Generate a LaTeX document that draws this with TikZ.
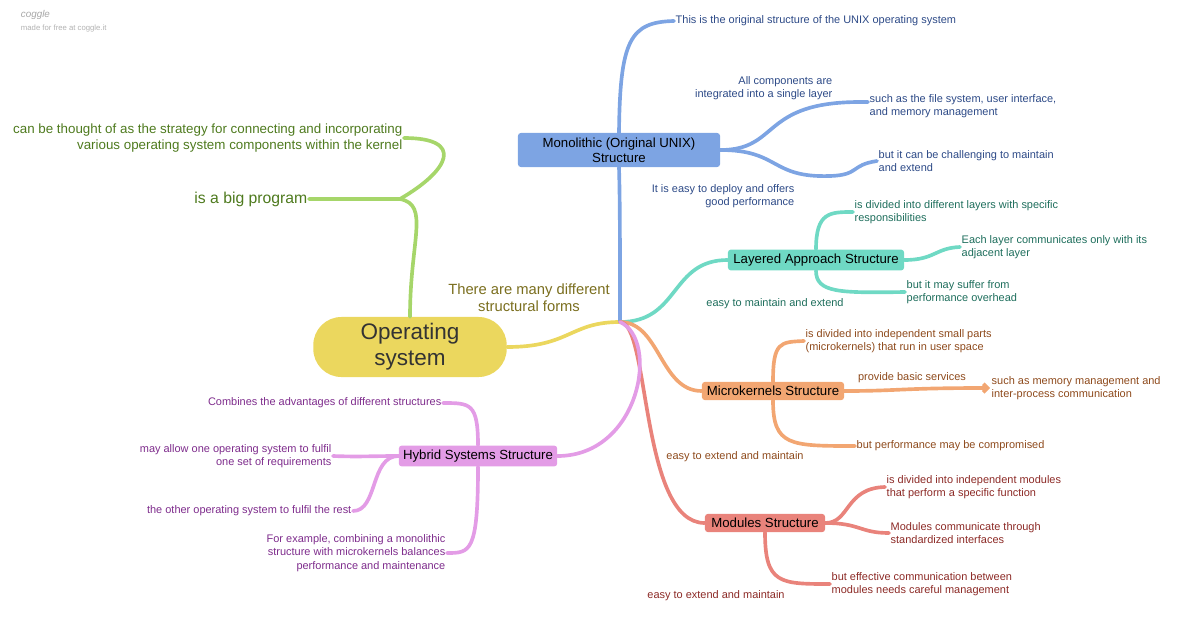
\documentclass[tikz,border=0pt]{standalone}
\usepackage{fontspec}
\setmainfont{Liberation Sans}
\usetikzlibrary{positioning,arrows.meta}

\definecolor{cyel}{HTML}{EBD75E}
\definecolor{cblue}{HTML}{7DA4E3}
\definecolor{cteal}{HTML}{6FD9C4}
\definecolor{corange}{HTML}{F2A672}
\definecolor{cred}{HTML}{E9837B}
\definecolor{cpurple}{HTML}{E39CE6}
\definecolor{cgreen}{HTML}{A6D66A}
\definecolor{tblue}{HTML}{2D4A87}
\definecolor{tteal}{HTML}{1E6E5C}
\definecolor{torange}{HTML}{8E4A1C}
\definecolor{tred}{HTML}{8C2A26}
\definecolor{tpurple}{HTML}{7E2C8C}
\definecolor{tgreen}{HTML}{4E7A1E}
\definecolor{tolive}{HTML}{7A6E1E}

\begin{document}
\begin{tikzpicture}[x=0.025cm, y=-0.025cm, line cap=round,
    txt/.style={font=\fontsize{7.8}{9.4}\selectfont, inner sep=1pt, align=left},
    rtxt/.style={txt, align=right},
    box/.style={rounded corners=2pt, inner sep=3pt, font=\fontsize{9.4}{10.6}\selectfont, align=center},
    branch/.style={line width=2.6pt}]
    \useasboundingbox (0,0) rectangle (1200,617);

    % watermark
    \node[anchor=west, text=black!35, font=\fontsize{7}{8}\selectfont\itshape] (logo) at (16,15) {coggle};
    \node[anchor=west, text=black!30, font=\fontsize{5.5}{7}\selectfont] (made) at (16,29) {made for free at coggle.it};

    % main nodes
    \node[fill=cyel, rounded corners=20pt, text width=4.6cm, minimum height=1.5cm, align=center,
          font=\fontsize{16}{18.5}\selectfont, text=black!80] (os) at (410,347) {Operating\\system};
    \coordinate (hub) at (620,322);
    \node[box, fill=cblue, minimum width=5.05cm, minimum height=0.85cm] (mono) at (619,150) {Monolithic (Original UNIX)\\Structure};
    \node[box, fill=cteal, minimum width=4.4cm] (layer) at (816,260) {Layered Approach Structure};
    \node[box, fill=corange, minimum width=3.55cm] (micro) at (773,391) {Microkernels Structure};
    \node[box, fill=cred, minimum width=3cm] (modul) at (765,523) {Modules Structure};
    \node[box, fill=cpurple, minimum width=3.95cm] (hybrid) at (478,456) {Hybrid Systems Structure};

    % green branch
    \node[rtxt, anchor=east, text=tgreen, font=\fontsize{9.5}{11}\selectfont] (strat) at (404,138)
        {can be thought of as the strategy for connecting and incorporating\\various operating system components within the kernel};
    \node[rtxt, anchor=east, text=tgreen, font=\fontsize{11.2}{13}\selectfont] (big) at (309,199) {is a big program};
    \draw[branch, cgreen] (os.north) .. controls (410,240) and (430,205) .. (400,199) -- (big.east);
    \draw[branch, cgreen] (400,199) .. controls (450,170) and (465,138) .. (strat.east);

    % center to hub
    \draw[branch, cyel] (os.east) .. controls (570,347) and (570,322) .. (hub);
    \node[txt, align=center, text=tolive, font=\fontsize{10.5}{12}\selectfont] (forms) at (529,298) {There are many different\\structural forms};

    % blue branch
    \draw[branch, cblue] (hub) .. controls (620,250) and (620,200) .. (mono.south);
    \node[txt, anchor=west, text=tblue] (b1) at (674,21) {This is the original structure of the UNIX operating system};
    \draw[branch, cblue] (mono.north) .. controls (620,40) and (630,22) .. (b1.west);
    \node[txt, anchor=west, text=tblue] (b2) at (868,106) {such as the file system, user interface,\\and memory management};
    \draw[branch, cblue] (mono.east) .. controls (780,150) and (760,102) .. (860,102) -- (b2.west |- 0,102);
    \node[rtxt, anchor=east, text=tblue] (l1) at (834,88) {All components are\\integrated into a single layer};
    \node[txt, anchor=west, text=tblue] (b3) at (877,161) {but it can be challenging to maintain\\and extend};
    \draw[branch, cblue] (mono.east) .. controls (780,150) and (770,178) .. (830,176) .. controls (860,175) and (850,165) .. (b3.west);
    \node[rtxt, anchor=east, text=tblue] (l2) at (796,196) {It is easy to deploy and offers\\good performance};

    % teal branch
    \draw[branch, cteal] (hub) .. controls (680,322) and (670,260) .. (layer.west);
    \node[txt, anchor=west, text=tteal] (t1) at (853,212) {is divided into different layers with specific\\responsibilities};
    \draw[branch, cteal] (layer.north) .. controls (816,212) and (830,212) .. (t1.west);
    \node[txt, anchor=west, text=tteal] (t2) at (960,247) {Each layer communicates only with its\\adjacent layer};
    \draw[branch, cteal] (layer.east) .. controls (935,260) and (935,248) .. (t2.west);
    \node[txt, anchor=west, text=tteal] (t3) at (905,292) {but it may suffer from\\performance overhead};
    \draw[branch, cteal] (layer.south) .. controls (816,293) and (840,293) .. (t3.west);
    \node[txt, text=tteal] (l3) at (775,304) {easy to maintain and extend};

    % orange branch
    \draw[branch, corange] (hub) .. controls (660,322) and (660,391) .. (micro.west);
    \node[txt, anchor=west, text=torange] (o1) at (804,341) {is divided into independent small parts\\(microkernels) that run in user space};
    \draw[branch, corange] (micro.north) .. controls (773,342) and (780,342) .. (o1.west);
    \node[txt, anchor=west, text=torange] (o2) at (990,388) {such as memory management and\\inter-process communication};
    \draw[branch, corange, -{Straight Barb[length=3pt]}] (micro.east) .. controls (900,391) and (900,388) .. (o2.west);
    \node[txt, text=torange] (l4) at (912,378) {provide basic services};
    \node[txt, anchor=west, text=torange] (o3) at (855,446) {but performance may be compromised};
    \draw[branch, corange] (micro.south) .. controls (773,446) and (790,446) .. (o3.west);
    \node[txt, text=torange] (l5) at (735,457) {easy to extend and maintain};

    % red branch
    \draw[branch, cred] (hub) .. controls (650,322) and (640,523) .. (modul.west);
    \node[txt, anchor=west, text=tred] (r1) at (885,487) {is divided into independent modules\\that perform a specific function};
    \draw[branch, cred] (modul.east) .. controls (850,523) and (845,488) .. (r1.west);
    \node[txt, anchor=west, text=tred] (r2) at (889,533) {Modules communicate through\\standardized interfaces};
    \draw[branch, cred] (modul.east) .. controls (860,523) and (860,533) .. (r2.west);
    \node[txt, anchor=west, text=tred] (r3) at (830,584) {but effective communication between\\modules needs careful management};
    \draw[branch, cred] (modul.south) .. controls (765,584) and (780,584) .. (r3.west);
    \node[txt, text=tred] (l6) at (716,596) {easy to extend and maintain};

    % purple branch
    \draw[branch, cpurple] (hub) .. controls (660,340) and (640,456) .. (hybrid.east);
    \node[rtxt, anchor=east, text=tpurple] (p1) at (443,403) {Combines the advantages of different structures};
    \draw[branch, cpurple] (hybrid.north) .. controls (478,403) and (470,403) .. (p1.east);
    \node[rtxt, anchor=east, text=tpurple] (p2) at (333,456) {may allow one operating system to fulfil\\one set of requirements};
    \draw[branch, cpurple] (hybrid.west) .. controls (370,456) and (360,457) .. (p2.east);
    \node[rtxt, anchor=east, text=tpurple] (p3) at (353,511) {the other operating system to fulfil the rest};
    \draw[branch, cpurple] (hybrid.west) .. controls (370,456) and (378,511) .. (p3.east);
    \node[rtxt, anchor=east, text=tpurple] (p4) at (447,553) {For example, combining a monolithic\\structure with microkernels balances\\performance and maintenance};
    \draw[branch, cpurple] (hybrid.south) .. controls (478,553) and (470,553) .. (p4.east);
\end{tikzpicture}
\end{document}
